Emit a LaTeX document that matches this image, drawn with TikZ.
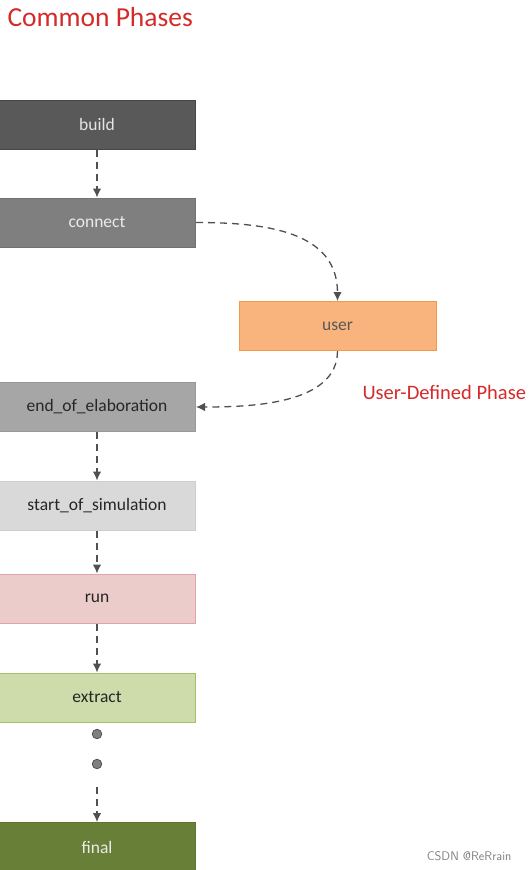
\documentclass[tikz,border=0pt]{standalone}
\usepackage{fontspec}
\setmainfont{Carlito}
\usetikzlibrary{arrows.meta}
\definecolor{titlered}{HTML}{D42A2A}
\definecolor{buildgray}{HTML}{595959}
\definecolor{connectgray}{HTML}{7F7F7F}
\definecolor{elabgray}{HTML}{A6A6A6}
\definecolor{simgray}{HTML}{D9D9D9}
\definecolor{runpink}{HTML}{ECCBCB}
\definecolor{runborder}{HTML}{E3A3A3}
\definecolor{extractgreen}{HTML}{CDDCAA}
\definecolor{extractborder}{HTML}{A3C06A}
\definecolor{finalgreen}{HTML}{687F38}
\definecolor{userorange}{HTML}{F8B47C}
\definecolor{userborder}{HTML}{F29A4C}
\definecolor{linegray}{HTML}{505050}
\begin{document}
\begin{tikzpicture}[x=1pt,y=-1pt]
		\tikzset{phase/.style = {shape=rectangle,draw,line width=1pt,minimum width=197pt,minimum height=49pt,inner sep=0pt,font=\fontsize{17.5}{20}\selectfont}}
		\tikzset{edge/.style = {->,> = {Latex[length=9pt,width=8.5pt]},draw=linegray,line width=1.3pt,dash pattern=on 7pt off 5pt}}
		\tikzset{dot/.style = {shape=circle,draw=linegray,fill=gray,line width=0.8pt,minimum size=9.5pt,inner sep=0pt}}
		\useasboundingbox (0,0) rectangle (529,870);
		\node[anchor=base west,text=titlered,font=\fontsize{27.5}{32}\selectfont] (title) at (4,27) {Common Phases};
		\node[phase,fill=buildgray,draw=buildgray!80!black,text=white!90!black] (build) at (97,124.5) {build};
		\node[phase,fill=connectgray,draw=connectgray!90!black,text=white!92!black] (connect) at (97,222.5) {connect};
		\node[phase,fill=userorange,draw=userborder,text=black!65] (user) at (337.5,326) {user};
		\node[phase,fill=elabgray,draw=elabgray!92!black,text=black!85] (elab) at (97,407) {end\_of\_elaboration};
		\node[phase,fill=simgray,draw=simgray!95!black,text=black!85] (sim) at (97,505.5) {start\_of\_simulation};
		\node[phase,fill=runpink,draw=runborder,text=black!85] (run) at (97,598.5) {run};
		\node[phase,fill=extractgreen,draw=extractborder,text=black!85] (extract) at (97,697.5) {extract};
		\node[phase,fill=finalgreen,draw=finalgreen!90!black,text=white!92!black] (final) at (97,847) {final};
		\node[dot] (dota) at (97,734) {};
		\node[dot] (dotb) at (97,764) {};
		\coordinate (tail) at (97,787);
		\node[anchor=west,text=titlered,font=\fontsize{20.5}{24}\selectfont] (userlabel) at (359,392) {User-Defined Phase};
		\node[anchor=east,text=gray,font=\sffamily\fontsize{12.5}{14}\selectfont] (mark) at (515,856) {CSDN @ReRrain};
		\path[edge] (build) -- (connect);
		\path[edge] (connect.east) to[out=0,in=90,looseness=1.1] (user.north);
		\path[edge] (user.south) to[out=-90,in=0,looseness=0.9] (elab.east);
		\path[edge] (elab) -- (sim);
		\path[edge] (sim) -- (run);
		\path[edge] (run) -- (extract);
		\path[edge] (tail) -- (final);
	\end{tikzpicture}
\end{document}
